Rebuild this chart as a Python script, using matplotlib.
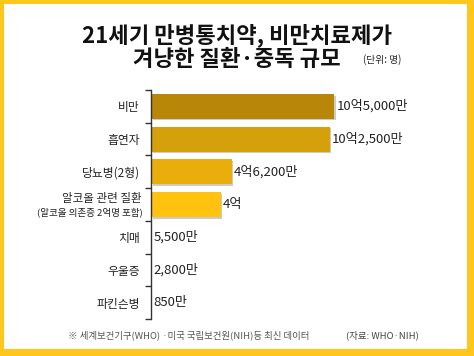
import matplotlib
matplotlib.use("Agg")
import matplotlib.pyplot as plt
import matplotlib.patheffects as pe
from matplotlib.patches import Rectangle
from matplotlib.transforms import blended_transform_factory

plt.rcParams['font.family'] = ['Noto Sans CJK KR', 'DejaVu Sans']

# data (단위: 만 명)
categories = ['비만', '흡연자', '당뇨병(2형)', '알코올 관련 질환', '치매', '우울증', '파킨슨병']
values = [105000, 102500, 46200, 40000, 5500, 2800, 850]
value_labels = ['10억5,000만', '10억2,500만', '4억6,200만', '4억', '5,500만', '2,800만', '850만']
bar_colors = ['#B8870A', '#D4A10A', '#E9AE0C', '#FFC20E', 'none', 'none', 'none']

fig = plt.figure(figsize=(4.74, 3.56), dpi=100)
fig.patch.set_facecolor('#FFC61E')
fig.patches.append(Rectangle((4/474, 7/356), 463/474, 345/356, transform=fig.transFigure,
                             facecolor='white', edgecolor='none', zorder=-5))

ax = fig.add_axes([151/474, 1 - 319/356, 309/474, 229/356])
ax.set_facecolor('none')
ax.set_zorder(2)

y = range(len(categories))
bars = ax.barh(y, values, height=0.76, color=bar_colors, zorder=2)
for b, c in zip(bars, bar_colors):
    if c != 'none':
        b.set_path_effects([pe.SimplePatchShadow(offset=(1.2, -1.2), shadow_rgbFace='#999999', alpha=0.5),
                            pe.Normal()])

xmax = 105000 * 309 / 183
ax.set_xlim(0, xmax)
ax.set_ylim(len(categories) - 0.5, -0.5)

for i, (v, lab, c) in enumerate(zip(values, value_labels, bar_colors)):
    x = v if c != 'none' else 0
    ax.text(x + xmax * 0.008, i, lab, va='center', ha='left', fontsize=9.5, color='#222222')

for s in ['top', 'right', 'bottom']:
    ax.spines[s].set_visible(False)
ax.spines['left'].set_color('#333333')
ax.spines['left'].set_linewidth(1.0)
ax.set_xticks([])

ax.set_yticks(list(y))
ticklabels = list(categories)
ticklabels[3] = ''
ax.set_yticklabels(ticklabels, fontsize=8.5, color='#222222')
ax.tick_params(axis='y', which='major', length=0, pad=8)
ax.set_yticks([i - 0.5 for i in range(len(categories) + 1)], minor=True)
ax.tick_params(axis='y', which='minor', length=4, width=1, color='#333333')

tr = blended_transform_factory(fig.transFigure, ax.transData)
ax.text(142/474, 3 - 0.17, '알코올 관련 질환', transform=tr, ha='right', va='center',
        fontsize=8.3, color='#222222')
ax.text(143/474, 3 + 0.25, '(알코올 의존증 2억명 포함)', transform=tr, ha='right', va='center',
        fontsize=6.9, color='#222222')

fig.text(237/474, 1 - 35/356, '21세기 만병통치약, 비만치료제가', ha='center', va='center',
         fontsize=16, fontweight='bold', color='#111111')
fig.text(237/474, 1 - 60/356, '겨냥한 질환·중독 규모', ha='center', va='center',
         fontsize=16, fontweight='bold', color='#111111')
fig.text(382/474, 1 - 60/356, '(단위: 명)', ha='center', va='center', fontsize=7, color='#222222')

fig.text(68/474, 1 - 335/356, '※ 세계보건기구(WHO) ·미국 국립보건원(NIH)등 최신 데이터',
         ha='left', va='center', fontsize=6.8, color='#555555')
fig.text(346/474, 1 - 335/356, '(자료: WHO·NIH)', ha='left', va='center', fontsize=6.8, color='#444444')

fig.savefig('out.png', dpi=100)
